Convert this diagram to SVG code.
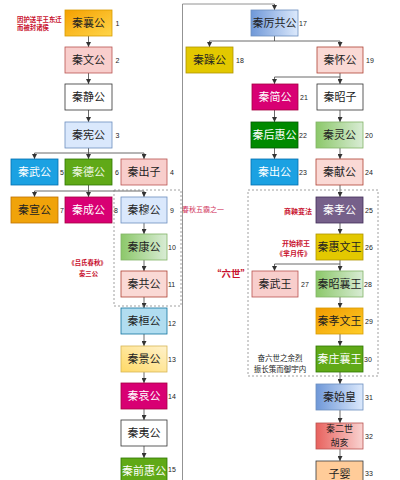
<svg xmlns="http://www.w3.org/2000/svg" width="400" height="480" viewBox="0 0 400 480">
<style>
.b{stroke-width:0.8}
.t{font-family:"Noto Sans CJK SC","Noto Sans",sans-serif;font-size:11px;text-anchor:middle;fill:#222}
.w{fill:#fff}
.n{font-family:"Liberation Sans",Arial,sans-serif;font-size:7px;fill:#222}
.r{font-family:"Noto Sans CJK SC",sans-serif;font-size:6.4px;fill:#c8102e;font-weight:bold}
.k{font-family:"Noto Sans CJK SC",sans-serif;font-size:7.5px;fill:#222;text-anchor:middle}
.c{stroke:#444;stroke-width:0.8;fill:none}
.ca{stroke:#444;stroke-width:0.8;fill:none;marker-end:url(#ah)}
.d{fill:none;stroke:#888;stroke-width:0.8;stroke-dasharray:2 2}
</style>
<defs>
<marker id="ah" markerWidth="5" markerHeight="5" refX="5" refY="2.5" orient="auto" markerUnits="userSpaceOnUse"><path d="M0,0 L5,2.5 L0,5 z" fill="#333"/></marker>
<linearGradient id="gOr" x1="0" y1="0" x2="1" y2="1"><stop offset="0" stop-color="#f5a000"/><stop offset="1" stop-color="#ffd64a"/></linearGradient>
<linearGradient id="gGr" x1="0" y1="0" x2="1" y2="0"><stop offset="0" stop-color="#8cc86a"/><stop offset="1" stop-color="#d9ecd5"/></linearGradient>
<linearGradient id="gYe" x1="0" y1="1" x2="1" y2="0"><stop offset="0" stop-color="#ffd966"/><stop offset="1" stop-color="#fff2cc"/></linearGradient>
<linearGradient id="gBl" x1="0" y1="0" x2="1" y2="0"><stop offset="0" stop-color="#6f98d8"/><stop offset="1" stop-color="#dce9fc"/></linearGradient>
<linearGradient id="gOr2" x1="0" y1="0" x2="1" y2="1"><stop offset="0" stop-color="#f09a00"/><stop offset="1" stop-color="#ffcd28"/></linearGradient>
<linearGradient id="gRd" x1="0" y1="0" x2="1" y2="0"><stop offset="0" stop-color="#e8625e"/><stop offset="1" stop-color="#f9d3d1"/></linearGradient>
</defs>

<g id="connectors">
<path class="ca" d="M88.5,36 V47"/>
<path class="ca" d="M88.5,73 V84"/>
<path class="ca" d="M88.5,110 V122"/>
<path class="c" d="M88.5,148 V153 M34.5,153 H144"/>
<path class="ca" d="M34.5,153 V159"/><path class="ca" d="M88.5,153 V159"/><path class="ca" d="M144,153 V159"/>
<path class="c" d="M88.5,185 V191 M34.5,191 H144"/>
<path class="ca" d="M34.5,191 V197"/><path class="ca" d="M88.5,191 V197"/><path class="ca" d="M144,191 V197"/>
<path class="ca" d="M144,223 V234"/>
<path class="ca" d="M144,260 V271"/>
<path class="ca" d="M144,297 V308"/>
<path class="ca" d="M144,334 V346"/>
<path class="ca" d="M144,372 V383"/>
<path class="ca" d="M144,409 V420"/>
<path class="ca" d="M144,446 V458"/>
<path class="c" d="M182.5,480 V4 H274.5" style="stroke:#777"/>
<path class="ca" d="M274.5,4 V10"/>
<path class="c" d="M274.5,36 V41 M209.5,41 H340"/>
<path class="ca" d="M209.5,41 V47"/><path class="ca" d="M340,41 V47"/>
<path class="c" d="M340,73 V77 M274.5,77 H340"/>
<path class="ca" d="M274.5,77 V84"/><path class="ca" d="M340,77 V84"/>
<path class="ca" d="M274.5,110 V122"/>
<path class="ca" d="M274.5,148 V159"/>
<path class="ca" d="M340,110 V122"/>
<path class="ca" d="M340,148 V159"/>
<path class="ca" d="M340,185 V197"/>
<path class="ca" d="M340,223 V234"/>
<path class="c" d="M340,260 V264 M274.5,264 H340"/>
<path class="ca" d="M274.5,264 V271"/><path class="ca" d="M340,264 V271"/>
<path class="ca" d="M340,297 V308"/>
<path class="ca" d="M340,334 V346"/>
<path class="ca" d="M340,372 V384"/>
<path class="ca" d="M340,410 V423"/>
<path class="ca" d="M340,449 V461"/>
</g>

<rect class="d" x="114" y="190" width="67" height="116"/>
<rect class="d" x="248" y="190" width="130" height="186"/>

<g id="n1"><rect class="b" x="65" y="10" width="47" height="26" fill="url(#gOr)" stroke="#d79b00"/><text class="t" x="88.5" y="27">秦襄公</text><text class="n" x="115.5" y="25.5">1</text></g>
<g id="n2"><rect class="b" x="65" y="47" width="47" height="26" fill="#f8cecc" stroke="#b85450"/><text class="t" x="88.5" y="64">秦文公</text><text class="n" x="115.5" y="62.5">2</text></g>
<g id="njing"><rect class="b" x="65" y="84" width="47" height="26" fill="#fff" stroke="#333"/><text class="t" x="88.5" y="101">秦静公</text></g>
<g id="n3"><rect class="b" x="65" y="122" width="47" height="26" fill="#dae8fc" stroke="#6c8ebf"/><text class="t" x="88.5" y="139">秦宪公</text><text class="n" x="115.5" y="137.5">3</text></g>
<g id="n5"><rect class="b" x="11" y="159" width="47" height="26" fill="#1ba1e2" stroke="#006eaf"/><text class="t w" x="34.5" y="176">秦武公</text><text class="n" x="60" y="174.5">5</text></g>
<g id="n6"><rect class="b" x="65" y="159" width="47" height="26" fill="#60a917" stroke="#2d7600"/><text class="t" style="fill:#eef7e4" x="88.5" y="176">秦德公</text><text class="n" x="115" y="174.5">6</text></g>
<g id="n4"><rect class="b" x="121" y="159" width="46" height="26" fill="#f8cecc" stroke="#b85450"/><text class="t" x="144" y="176">秦出子</text><text class="n" x="170" y="174.5">4</text></g>
<g id="n7"><rect class="b" x="11" y="197" width="47" height="26" fill="#f0a30a" stroke="#bd7000"/><text class="t" x="34.5" y="214">秦宣公</text><text class="n" x="60" y="212.5">7</text></g>
<g id="n8"><rect class="b" x="65" y="197" width="47" height="26" fill="#d80073" stroke="#a50040"/><text class="t w" x="88.5" y="214">秦成公</text><text class="n" x="114" y="212.5">8</text></g>
<g id="n9"><rect class="b" x="121" y="197" width="46" height="26" fill="#dae8fc" stroke="#6c8ebf"/><text class="t" x="144" y="214">秦穆公</text><text class="n" x="170" y="212.5">9</text></g>
<g id="n10"><rect class="b" x="121" y="234" width="46" height="26" fill="url(#gGr)" stroke="#82b366"/><text class="t" x="144" y="251">秦康公</text><text class="n" x="168" y="249.5">10</text></g>
<g id="n11"><rect class="b" x="121" y="271" width="46" height="26" fill="#fad9d5" stroke="#ae4132"/><text class="t" x="144" y="288">秦共公</text><text class="n" x="168" y="286.5">11</text></g>
<g id="n12"><rect class="b" x="121" y="308" width="46" height="26" fill="#b1ddf0" stroke="#10739e"/><text class="t" x="144" y="325">秦桓公</text><text class="n" x="168" y="326">12</text></g>
<g id="n13"><rect class="b" x="121" y="346" width="46" height="26" fill="url(#gYe)" stroke="#d6b656"/><text class="t" x="144" y="363">秦景公</text><text class="n" x="168" y="361.5">13</text></g>
<g id="n14"><rect class="b" x="121" y="383" width="46" height="26" fill="#d80073" stroke="#a50040"/><text class="t w" x="144" y="400">秦哀公</text><text class="n" x="168" y="398.5">14</text></g>
<g id="nyi"><rect class="b" x="121" y="420" width="46" height="26" fill="#fff" stroke="#333"/><text class="t" x="144" y="437">秦夷公</text></g>
<g id="n15"><rect class="b" x="121" y="458" width="46" height="26" fill="#60a917" stroke="#2d7600"/><text class="t w" x="144" y="475">秦前惠公</text><text class="n" x="168" y="472">15</text></g>

<g id="n17"><rect class="b" x="251" y="10" width="47" height="26" fill="url(#gBl)" stroke="#6c8ebf"/><text class="t" x="274.5" y="27">秦厉共公</text><text class="n" x="299" y="25.5">17</text></g>
<g id="n18"><rect class="b" x="186" y="47" width="47" height="26" fill="#e3c800" stroke="#b09500"/><text class="t" x="209.5" y="64">秦躁公</text><text class="n" x="236" y="62.5">18</text></g>
<g id="n19"><rect class="b" x="317" y="47" width="46" height="26" fill="#fad9d5" stroke="#ae4132"/><text class="t" x="340" y="64">秦怀公</text><text class="n" x="366" y="62.5">19</text></g>
<g id="n21"><rect class="b" x="252" y="84" width="46" height="26" fill="#d80073" stroke="#a50040"/><text class="t w" x="275" y="101">秦简公</text><text class="n" x="300" y="99.5">21</text></g>
<g id="nzhaozi"><rect class="b" x="317" y="84" width="46" height="26" fill="#fff" stroke="#333"/><text class="t" x="340" y="101">秦昭子</text></g>
<g id="n22"><rect class="b" x="251" y="122" width="47" height="26" fill="#008a00" stroke="#005700"/><text class="t w" x="274.5" y="139">秦后惠公</text><text class="n" x="299" y="137.5">22</text></g>
<g id="n20"><rect class="b" x="316" y="122" width="47" height="26" fill="url(#gGr)" stroke="#82b366"/><text class="t" x="339.5" y="139">秦灵公</text><text class="n" x="365" y="137.5">20</text></g>
<g id="n23"><rect class="b" x="251" y="159" width="47" height="26" fill="#1ba1e2" stroke="#006eaf"/><text class="t w" x="274.5" y="176">秦出公</text><text class="n" x="299" y="174.5">23</text></g>
<g id="n24"><rect class="b" x="316" y="159" width="47" height="26" fill="#fad9d5" stroke="#ae4132"/><text class="t" x="339.5" y="176">秦献公</text><text class="n" x="365" y="174.5">24</text></g>
<g id="n25"><rect class="b" x="316" y="197" width="47" height="26" fill="#76608a" stroke="#432d57"/><text class="t w" x="339.5" y="214">秦孝公</text><text class="n" x="365" y="212.5">25</text></g>
<g id="n26"><rect class="b" x="316" y="234" width="47" height="26" fill="#e3c800" stroke="#b09500"/><text class="t" x="339.5" y="251">秦惠文王</text><text class="n" x="365" y="249.5">26</text></g>
<g id="n27"><rect class="b" x="252" y="271" width="46" height="26" fill="#f8cecc" stroke="#b85450"/><text class="t" x="275" y="288">秦武王</text><text class="n" x="301" y="286.5">27</text></g>
<g id="n28"><rect class="b" x="316" y="271" width="47" height="26" fill="url(#gGr)" stroke="#82b366"/><text class="t" x="339.5" y="288">秦昭襄王</text><text class="n" x="364" y="286.5">28</text></g>
<g id="n29"><rect class="b" x="316" y="308" width="47" height="26" fill="url(#gOr2)" stroke="#d79b00"/><text class="t" x="339.5" y="325">秦孝文王</text><text class="n" x="365" y="323.5">29</text></g>
<g id="n30"><rect class="b" x="316" y="346" width="47" height="26" fill="#60a917" stroke="#2d7600"/><text class="t w" x="339.5" y="363">秦庄襄王</text><text class="n" x="364" y="361.5">30</text></g>
<g id="n31"><rect class="b" x="316" y="384" width="47" height="26" fill="url(#gBl)" stroke="#6c8ebf"/><text class="t" x="339.5" y="401">秦始皇</text><text class="n" x="365" y="399.5">31</text></g>
<g id="n32"><rect class="b" x="316" y="423" width="47" height="26" fill="url(#gRd)" stroke="#b85450"/><text class="t" style="font-size:9px" x="339.5" y="432">秦二世</text><text class="t" style="font-size:9px" x="339.5" y="445.5">胡亥</text><text class="n" x="365" y="438.5">32</text></g>
<g id="n33"><rect class="b" x="316" y="461" width="47" height="26" fill="#ffcc99" stroke="#36393d"/><text class="t" x="339.5" y="478">子婴</text><text class="n" x="365" y="476">33</text></g>

<g id="notes">
<text class="r" x="17" y="22">因护送平王东迁</text>
<text class="r" x="17" y="30">而被封诸侯</text>
<text class="r" x="182" y="212" style="font-size:7px;fill:#d0315a;font-weight:normal">春秋五霸之一</text>
<text class="r" x="87.5" y="264.5" style="text-anchor:middle">《吕氏春秋》</text>
<text class="r" x="88.5" y="276" style="text-anchor:middle">秦三公</text>
<text class="r" x="312" y="213.5" style="text-anchor:end;font-size:7px">商鞅变法</text>
<text class="r" x="310" y="245.5" style="text-anchor:end;font-size:7px">开始称王</text>
<text class="r" x="311" y="255.5" style="text-anchor:end;font-size:7px">《芈月传》</text>
<text class="r" x="231" y="276.5" style="text-anchor:middle;font-size:9.5px">“六世”</text>
<text class="k" x="280" y="361">奋六世之余烈</text>
<text class="k" x="280" y="372">振长策而御宇内</text>
</g>
</svg>
